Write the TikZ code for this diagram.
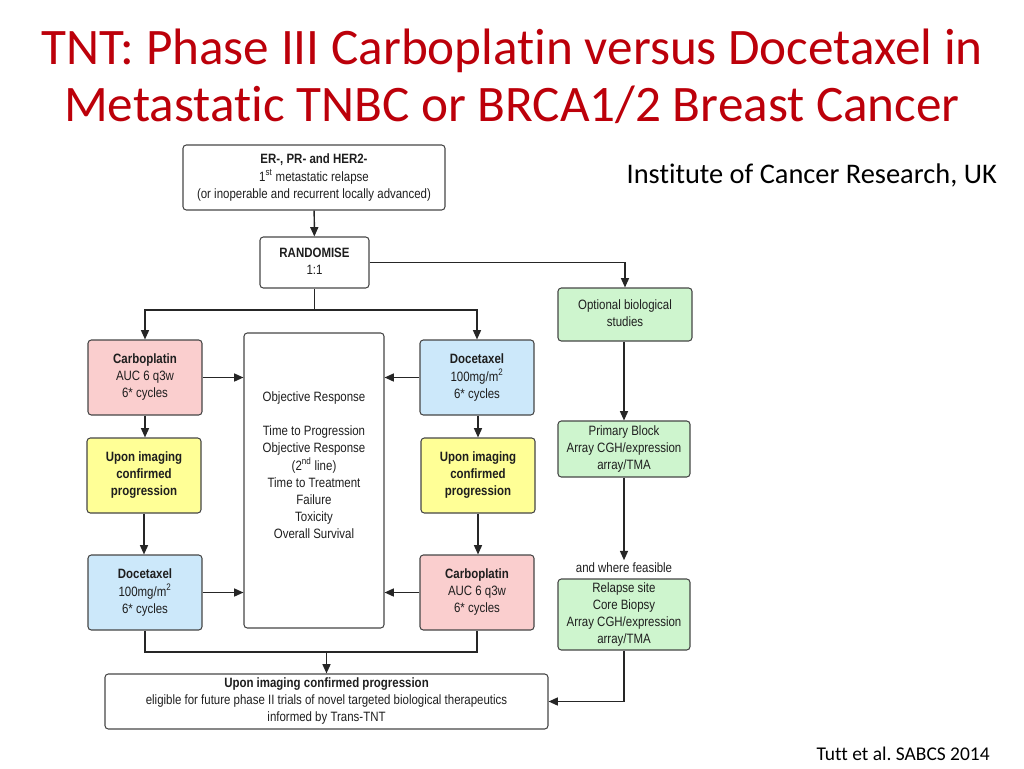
\documentclass[tikz,border=0pt]{standalone}
\usepackage{fontspec}
\usepackage{graphicx}
\setmainfont{Carlito}[Ligatures=NoCommon]
\newfontfamily\diagfont{Liberation Sans}
\usetikzlibrary{arrows.meta}
\frenchspacing
\definecolor{titlered}{RGB}{188,0,10}
\definecolor{pinkfill}{RGB}{250,206,206}
\definecolor{bluefill}{RGB}{204,232,250}
\definecolor{yellowfill}{RGB}{255,255,150}
\definecolor{greenfill}{RGB}{206,245,206}
\definecolor{edgegray}{RGB}{70,70,70}
\definecolor{txtgray}{RGB}{30,30,30}
\newcommand{\vs}[1]{\scalebox{1}[1.18]{\begin{tabular}{@{}c@{}}#1\end{tabular}}}
\begin{document}
\begin{tikzpicture}[x=0.75pt,y=-0.75pt,
 box/.style={draw=edgegray, line width=0.8pt, rounded corners=2.5pt, align=center, inner sep=0pt,
   font=\diagfont\fontsize{8.6pt}{10.8pt}\selectfont, text=txtgray},
 txt/.style={align=center, inner sep=0pt, font=\diagfont\fontsize{8.6pt}{10.8pt}\selectfont, text=txtgray},
 armbox/.style={box, minimum width=85.5pt, minimum height=56.25pt},
 greenbox/.style={box, fill=greenfill, minimum width=99pt},
 conn/.style={line width=1.1pt, draw=black!85},
 arr/.style={conn, -{Triangle[length=7pt,width=6pt]}},
]
\useasboundingbox (0,0) rectangle (1024,768);

% titles
\node[anchor=base, text=titlered, font=\fontsize{38.4pt}{46pt}\selectfont, inner sep=0pt] (title1) at (512,64) {TNT: Phase III Carboplatin versus Docetaxel in};
\node[anchor=base, text=titlered, font=\fontsize{38.4pt}{46pt}\selectfont, inner sep=0pt] (title2) at (512,121) {Metastatic TNBC or BRCA1/2 Breast Cancer};
\node[anchor=base east, font=\fontsize{21.3pt}{25pt}\selectfont, inner sep=0pt] (inst) at (997,183) {Institute of Cancer Research, UK};
\node[anchor=base east, font=\fontsize{14.6pt}{17pt}\selectfont, inner sep=0pt] (tutt) at (990,760) {Tutt et al. SABCS 2014};

% boxes
\node[box, minimum width=196.5pt, minimum height=48.75pt] (top) at (314,177.5)
  {\vs{\textbf{ER-, PR- and HER2-}\\1\textsuperscript{st} metastatic relapse\\(or inoperable and recurrent locally advanced)}};
\node[box, minimum width=81.75pt, minimum height=38.25pt] (rand) at (314.5,262.5)
  {\vs{\textbf{RANDOMISE}\\1:1}};
\node[armbox, fill=pinkfill] (carboA) at (145,377.5) {\vs{\textbf{Carboplatin}\\AUC 6 q3w\\6* cycles}};
\node[armbox, fill=bluefill] (doceA) at (477,377.5) {\vs{\textbf{Docetaxel}\\100mg/m\textsuperscript{2}\\6* cycles}};
\node[armbox, fill=yellowfill] (yelA) at (144,475.5) {\vs{\textbf{Upon imaging}\\\textbf{confirmed}\\\textbf{progression}}};
\node[armbox, fill=yellowfill] (yelB) at (478,475.5) {\vs{\textbf{Upon imaging}\\\textbf{confirmed}\\\textbf{progression}}};
\node[armbox, fill=bluefill] (doceB) at (145,592.5) {\vs{\textbf{Docetaxel}\\100mg/m\textsuperscript{2}\\6* cycles}};
\node[armbox, fill=pinkfill] (carboB) at (477,592.5) {\vs{\textbf{Carboplatin}\\AUC 6 q3w\\6* cycles}};
\node[box, fill=white, minimum width=105pt, minimum height=221.25pt] (mid) at (314,480.5) {};
\node[txt] (midtext) at (314,467) {\vs{Objective Response\\[10.8pt]Time to Progression\\Objective Response\\(2\textsuperscript{nd} line)\\Time to Treatment\\Failure\\Toxicity\\Overall Survival}};
\node[box, minimum width=332.25pt, minimum height=41.25pt] (final) at (326.5,701.5)
  {\vs{\textbf{Upon imaging confirmed progression}\\eligible for future phase II trials of novel targeted biological therapeutics\\informed by Trans-TNT}};
\node[greenbox, minimum width=100.5pt, minimum height=39.75pt] (opt) at (625,314.5) {\vs{Optional biological\\studies}};
\node[greenbox, minimum height=42pt] (prim) at (624,449) {\vs{Primary Block\\Array CGH/expression\\array/TMA}};
\node[txt] (feas) at (624,569) {\vs{and where feasible}};
\node[greenbox, minimum height=53.25pt] (rel) at (624,614.5) {\vs{Relapse site\\Core Biopsy\\Array CGH/expression\\array/TMA}};

% connectors
\coordinate (split) at (314.5,310);
\coordinate (join) at (326.5,652);
\draw[arr] (top) -- (rand);
\draw[conn] (rand.south) -- (split);
\draw[arr] (split) -| (carboA.north);
\draw[arr] (split) -| (doceA.north);
\draw[arr] (rand.east) -| (opt.north);
\draw[arr] (carboA.south) -- (carboA.south |- yelA.north);
\draw[arr] (yelA.south) -- (yelA.south |- doceB.north);
\draw[arr] (doceA.south -| yelB.north) -- (yelB.north);
\draw[arr] (yelB.south) -- (yelB.south |- carboB.north);
\draw[arr] (carboA.east) -- (carboA.east -| mid.west);
\draw[arr] (doceA.west) -- (doceA.west -| mid.east);
\draw[arr] (doceB.east) -- (doceB.east -| mid.west);
\draw[arr] (carboB.west) -- (carboB.west -| mid.east);
\draw[conn] (doceB.south) |- (join) -| (carboB.south);
\draw[arr] (join) -- (final.north);
\draw[arr] (opt.south -| prim.north) -- (prim.north);
\draw[arr] (prim.south) -- (feas.north);
\draw[arr] (rel.south) |- (final.east);
\end{tikzpicture}
\end{document}
